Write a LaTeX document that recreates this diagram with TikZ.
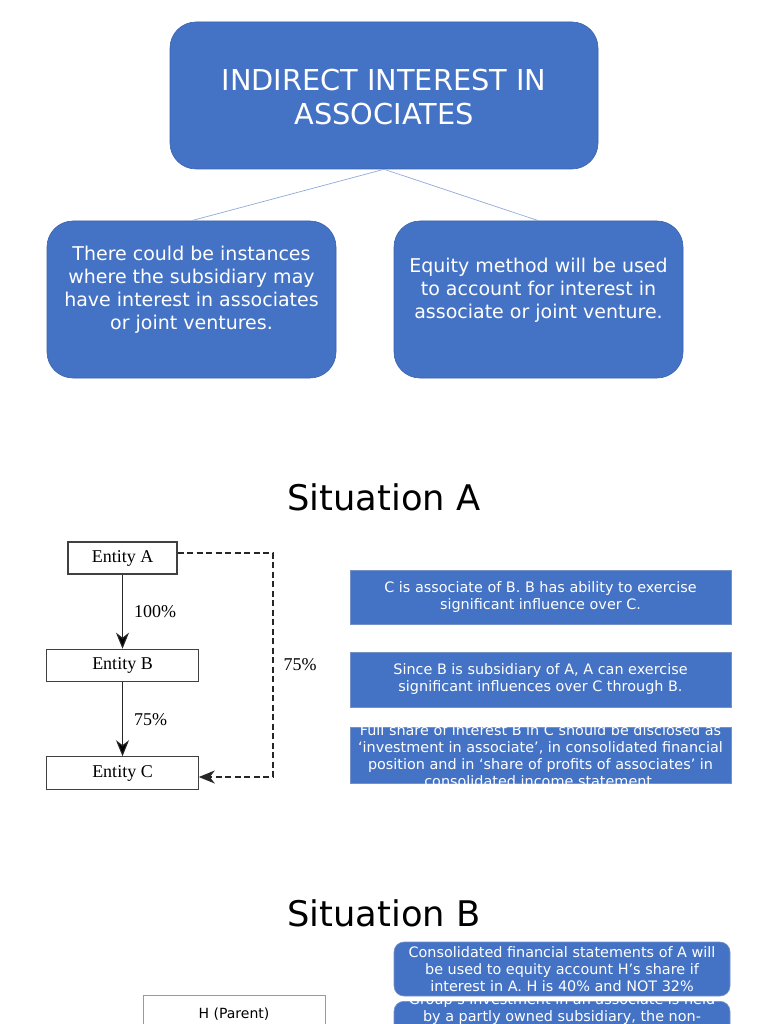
\documentclass[tikz,border=0pt]{standalone}
\usepackage{fontspec}
\setmainfont{DejaVu Sans}
\newfontfamily\entfont{Liberation Serif}
\usetikzlibrary{arrows.meta}
\definecolor{boxblue}{HTML}{4472C4}
\definecolor{boxedge}{HTML}{3A62AC}
\definecolor{linkblue}{HTML}{8FAADC}
\definecolor{hgray}{HTML}{8C9CB8}

\begin{document}
\begin{tikzpicture}[x=1pt,y=-1pt,
	bigbox/.style={draw=boxedge, fill=boxblue, rounded corners=26pt, line width=0.6pt},
	notebox/.style={draw=boxedge!70, fill=boxblue, line width=0.6pt},
	wtext/.style={text=white, align=center, inner sep=0pt},
	small/.style={font=\fontsize{14.4}{17}\selectfont},
	entity/.style={draw=black!75, line width=1.1pt, inner sep=0pt, font=\entfont\fontsize{18}{20}\selectfont},
	pct/.style={inner sep=0pt, font=\entfont\fontsize{18}{20}\selectfont},
	own/.style={-{Stealth[length=16pt,width=13pt,inset=5pt]}, line width=1.1pt, draw=black!85},
	sittitle/.style={inner sep=0pt, font=\fontsize{35.3}{40}\selectfont}
]
\useasboundingbox[fill=white] (0,0) rectangle (768,1024);

% top
\node[bigbox, minimum width=428pt, minimum height=147pt] (top) at (384,95.5) {};
\node[wtext, font=\fontsize{28.8}{34}\selectfont] (toptxt) at (384,97) {INDIRECT INTEREST IN\\ASSOCIATES};
\node[bigbox, minimum width=289pt, minimum height=157pt] (left) at (191.5,299.5) {};
\node[wtext, font=\fontsize{19}{23}\selectfont] (lefttxt) at (191.5,290) {There could be instances\\where the subsidiary may\\have interest in associates\\or joint ventures.};
\node[bigbox, minimum width=289pt, minimum height=157pt] (right) at (538.5,299.5) {};
\node[wtext, font=\fontsize{19}{23}\selectfont] (righttxt) at (538.5,290) {Equity method will be used\\to account for interest in\\associate or joint venture.};
\draw[linkblue, line width=0.7pt] (top.south) -- (left.north) (top.south) -- (right.north);

% situation A
\node[sittitle] (sitA) at (384,497) {Situation A};
\node[entity, minimum width=109pt, minimum height=32pt] (entA) at (122.5,558) {Entity A};
\node[entity, minimum width=151.5pt, minimum height=32.5pt] (entB) at (122.5,665.5) {Entity B};
\node[entity, minimum width=151.5pt, minimum height=32.5pt] (entC) at (122.5,773) {Entity C};
\coordinate (dcorner) at (273,553);
\path[own]
(entA) edge node[pct, anchor=west, xshift=11pt]{100\%} (entB)
(entB) edge node[pct, anchor=west, xshift=11pt]{75\%} (entC)
;
\draw[own, line width=1.3pt, dash pattern=on 6pt off 3.5pt] ([yshift=5pt]entA.east) -- (dcorner) |- node[pct, pos=0.25, anchor=west, xshift=10pt]{75\%} ([yshift=-4pt]entC.east);

\node[notebox, wtext, small, minimum width=381pt, minimum height=54pt] (noteA1) at (540.5,597) {C is associate of B. B has ability to exercise\\significant influence over C.};
\node[notebox, wtext, small, minimum width=381pt, minimum height=55pt] (noteA2) at (540.5,679.5) {Since B is subsidiary of A, A can exercise\\significant influences over C through B.};
\node[notebox, minimum width=381pt, minimum height=56pt] (noteA3) at (540.5,755) {};
\begin{scope}
\clip (noteA3.north west) rectangle (noteA3.south east);
\node[wtext, small] (noteA3txt) at (540.5,755.5) {Full share of interest B in C should be disclosed as\\‘investment in associate’, in consolidated financial\\position and in ‘share of profits of associates’ in\\consolidated income statement.};
\end{scope}

% situation B
\node[sittitle] (sitB) at (384,913) {Situation B};
\node[draw=hgray, line width=0.8pt, minimum width=182pt, minimum height=60pt, anchor=north] (parH) at (234,995) {};
\node[inner sep=0pt, font=\fontsize{14}{17}\selectfont] (parHtxt) at (234,1014) {H (Parent)};
\node[notebox, wtext, small, rounded corners=10pt, minimum width=336pt, minimum height=54pt] (noteB1) at (562,969) {Consolidated financial statements of A will\\be used to equity account H’s share if\\interest in A. H is 40\% and NOT 32\%};
\node[notebox, rounded corners=10pt, minimum width=336pt, minimum height=50pt, anchor=north] (noteB2) at (562,1001) {};
\begin{scope}
\clip (noteB2.north west) rectangle (noteB2.south east);
\node[wtext, small] (noteB2txt) at (562,1009.5) {Group’s investment in an associate is held\\by a partly owned subsidiary, the non-};
\end{scope}
\end{tikzpicture}
\end{document}
